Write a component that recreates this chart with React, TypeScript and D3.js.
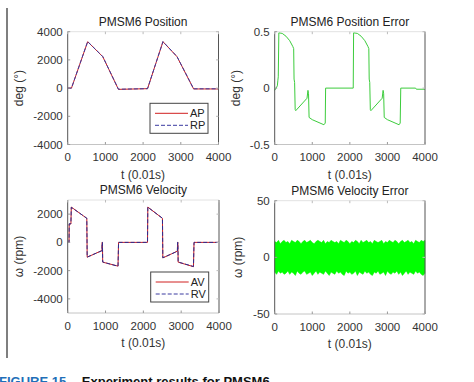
import React from "react";
import * as d3 from "d3";

const xTicks = [0, 1000, 2000, 3000, 4000];

// Position (deg)
const posT = [0, 100, 530, 930, 1346, 2118, 2527, 2899, 3340, 4000];
const apPos = [0, 0, 3290, 2230, -90, -40, 3290, 2230, -60, -60];
const rpPos = [0, 0, 3300, 2240, -80, -40, 3300, 2240, -50, -50];
const posTicks = [-4000, -2000, 0, 2000, 4000];

// Position error (deg)
const errT = [0, 70, 85, 95, 110, 200, 300, 400, 480, 505, 515, 530, 545, 560, 860, 885, 900, 915, 1000, 1310, 1345, 1355, 2090, 2100, 2200, 2300, 2400, 2480, 2505, 2515, 2530, 2545, 2560, 2860, 2885, 2900, 2915, 3000, 3310, 3340, 3355, 3750, 3770, 4000];
const errVal = [-0.02, 0.02, 0.07, 0.1, 0.49, 0.485, 0.46, 0.42, 0.37, 0.35, 0.08, 0.05, -0.19, -0.2, -0.09, -0.02, -0.05, -0.26, -0.28, -0.325, -0.31, 0, 0, 0.49, 0.485, 0.46, 0.42, 0.37, 0.35, 0.08, 0.05, -0.19, -0.2, -0.09, -0.02, -0.05, -0.26, -0.28, -0.325, -0.31, 0, 0, -0.01, -0.01];
const errTicks = [-0.5, 0, 0.5];

// Velocity (rpm)
const velT = [0, 35, 40, 85, 95, 505, 515, 905, 910, 918, 925, 1330, 1345, 2110, 2118, 2505, 2515, 2900, 2905, 2913, 2920, 3325, 3340, 4000];
const avVel = [0, 0, 1300, 1300, 2500, 1700, -1050, -580, 0, 0, -1400, -1680, 0, 0, 2500, 1700, -1100, -620, 0, 0, -1400, -1720, 0, 0];
const rvVel = [0, 0, 1320, 1320, 2480, 1710, -1040, -590, 0, 0, -1390, -1690, 0, 0, 2490, 1710, -1090, -630, 0, 0, -1390, -1710, 0, 0];
const velTicks = [-4000, -2000, 0, 2000];

// Velocity error envelope (rpm), every 50 samples of t
const verrStep = 50;
const verrUpper = [14, 13, 15, 12, 14, 15, 13, 14, 12, 15, 14, 13, 15, 14, 12, 14, 15, 13, 14, 15, 13, 12, 14, 15, 14, 13, 15, 12, 14, 13, 15, 14, 13, 14, 12, 15, 14, 13, 15, 14, 12, 14, 13, 15, 14, 12, 15, 13, 14, 15, 13, 14, 12, 15, 14, 13, 14, 15, 12, 14, 13, 15, 14, 13, 15, 14, 12, 14, 15, 13, 14, 15, 13, 14, 12, 15, 14, 13, 15, 14, 15];
const verrLower = [-13, -15, -12, -14, -13, -15, -14, -12, -15, -13, -14, -16, -12, -14, -15, -13, -12, -15, -14, -13, -16, -14, -12, -15, -13, -14, -15, -12, -14, -16, -13, -14, -15, -12, -14, -13, -15, -16, -12, -14, -13, -15, -14, -12, -16, -13, -14, -15, -12, -14, -13, -15, -16, -13, -14, -12, -15, -14, -13, -16, -12, -14, -15, -13, -14, -12, -15, -13, -16, -14, -12, -15, -13, -14, -15, -12, -14, -13, -15, -16, -14];
const verrTicks = [-50, 0, 50];

const FONT = "'Liberation Sans', Arial, Helvetica, sans-serif";

type Box = { l: number; r: number; t: number; b: number };

function Axes({ box, yDomain, yTicks, title, ylabel, ylabelOff, children }: any) {
  const x = d3.scaleLinear().domain([0, 4000]).range([box.l, box.r]);
  const y = d3.scaleLinear().domain(yDomain).range([box.b, box.t]);
  const tl = 2.5;
  return (
    <g fontFamily={FONT}>
      {children(x, y)}
      <line x1={box.l} x2={box.r} y1={box.b} y2={box.b} stroke="#c4c4c4" />
      <line x1={box.l} x2={box.r} y1={box.t} y2={box.t} stroke="#e2e2e2" />
      <line x1={box.l} x2={box.l} y1={box.t} y2={box.b} stroke="#555" />
      <line x1={box.r} x2={box.r} y1={box.t} y2={box.b} stroke="#555" />
      {xTicks.map((v) => (
        <g key={"x" + v}>
          <line x1={x(v)} x2={x(v)} y1={box.b} y2={box.b - tl} stroke="#999" />
          <line x1={x(v)} x2={x(v)} y1={box.t} y2={box.t + tl} stroke="#bbb" />
          <text x={x(v)} y={box.b + 16.5} fontSize={11.5} fill="#333" textAnchor="middle">{v}</text>
        </g>
      ))}
      {yTicks.map((v: number) => (
        <g key={"y" + v}>
          <line x1={box.l} x2={box.l + tl} y1={y(v)} y2={y(v)} stroke="#999" />
          <line x1={box.r} x2={box.r - tl} y1={y(v)} y2={y(v)} stroke="#bbb" />
          <text x={box.l - 5} y={y(v)} dy="0.35em" fontSize={11.5} fill="#333" textAnchor="end">{String(v)}</text>
        </g>
      ))}
      <text x={(box.l + box.r) / 2} y={box.t - 6} fontSize={12} fill="#222" textAnchor="middle">{title}</text>
      <text x={(box.l + box.r) / 2} y={box.b + 34} fontSize={12} fill="#333" textAnchor="middle">t (0.01s)</text>
      <text transform={`translate(${box.l - ylabelOff},${(box.t + box.b) / 2}) rotate(-90)`} fontSize={12} fill="#333" textAnchor="middle">{ylabel}</text>
    </g>
  );
}

function Legend({ x0, y0, labels }: { x0: number; y0: number; labels: string[] }) {
  return (
    <g fontFamily={FONT}>
      <rect x={x0} y={y0} width={58} height={30} fill="#fff" stroke="#444" strokeWidth={1} />
      <line x1={x0 + 5} x2={x0 + 38} y1={y0 + 10} y2={y0 + 10} stroke="#d02020" strokeWidth={1} />
      <line x1={x0 + 5} x2={x0 + 38} y1={y0 + 22} y2={y0 + 22} stroke="#3a3aa0" strokeWidth={1} strokeDasharray="4,2" />
      <text x={x0 + 40} y={y0 + 10} dy="0.35em" fontSize={11} fill="#222">{labels[0]}</text>
      <text x={x0 + 40} y={y0 + 22} dy="0.35em" fontSize={11} fill="#222">{labels[1]}</text>
    </g>
  );
}

export default function App() {
  const b1: Box = { l: 67.7, r: 218.5, t: 31.7, b: 144.5 };
  const b2: Box = { l: 274.7, r: 425, t: 31.7, b: 144.5 };
  const b3: Box = { l: 67.7, r: 219, t: 200, b: 313 };
  const b4: Box = { l: 274.7, r: 425, t: 200.7, b: 314 };

  const linePath = (xs: number[], ys: number[], x: any, y: any) =>
    d3.line<number>().x((_, i) => x(xs[i])).y((d) => y(d))(ys) || "";

  return (
    <svg width={474} height={382} style={{ position: "absolute", left: 0, top: 0, background: "#fff" }}>
      <rect width={474} height={382} fill="#fff" />
      <line x1={7} x2={7} y1={8} y2={358} stroke="#555" strokeWidth={1.5} />

      <Axes box={b1} yDomain={[-4000, 4000]} yTicks={posTicks} title="PMSM6 Position" ylabel="deg (°)" ylabelOff={45}>
        {(x: any, y: any) => (
          <g>
            <path d={linePath(posT, apPos, x, y)} fill="none" stroke="#d02020" strokeWidth={1} />
            <path d={linePath(posT, rpPos, x, y)} fill="none" stroke="#3a3aa0" strokeWidth={1} strokeDasharray="4,2" />
          </g>
        )}
      </Axes>
      <Legend x0={150} y0={103.3} labels={["AP", "RP"]} />

      <Axes box={b2} yDomain={[-0.5, 0.5]} yTicks={errTicks} title="PMSM6 Position Error" ylabel="deg (°)" ylabelOff={35}>
        {(x: any, y: any) => (
          <path d={linePath(errT, errVal, x, y)} fill="none" stroke="#3ccc3c" strokeWidth={1} />
        )}
      </Axes>

      <Axes box={b3} yDomain={[-5000, 3000]} yTicks={velTicks} title="PMSM6 Velocity" ylabel="ω (rpm)" ylabelOff={45}>
        {(x: any, y: any) => (
          <g>
            <path d={linePath(velT, avVel, x, y)} fill="none" stroke="#d02020" strokeWidth={1} />
            <path d={linePath(velT, rvVel, x, y)} fill="none" stroke="#2c2c90" strokeWidth={1} strokeDasharray="4,2" />
          </g>
        )}
      </Axes>
      <Legend x0={150.7} y0={272} labels={["AV", "RV"]} />

      <Axes box={b4} yDomain={[-50, 50]} yTicks={verrTicks} title="PMSM6 Velocity Error" ylabel="ω (rpm)" ylabelOff={33}>
        {(x: any, y: any) => {
          const area = d3
            .area<number>()
            .x((_, i) => x(i * verrStep))
            .y0((_, i) => y(verrLower[i]))
            .y1((d) => y(d));
          return <path d={area(verrUpper) || ""} fill="#00ff00" stroke="#00ee00" strokeWidth={0.5} />;
        }}
      </Axes>

      <text x={-1} y={386} fontFamily={FONT} fontSize={13} fontWeight="bold">
        <tspan fill="#1f6fb8">FIGURE 15.</tspan>
        <tspan fill="#111" dx={12}>Experiment results for PMSM6.</tspan>
      </text>
    </svg>
  );
}
